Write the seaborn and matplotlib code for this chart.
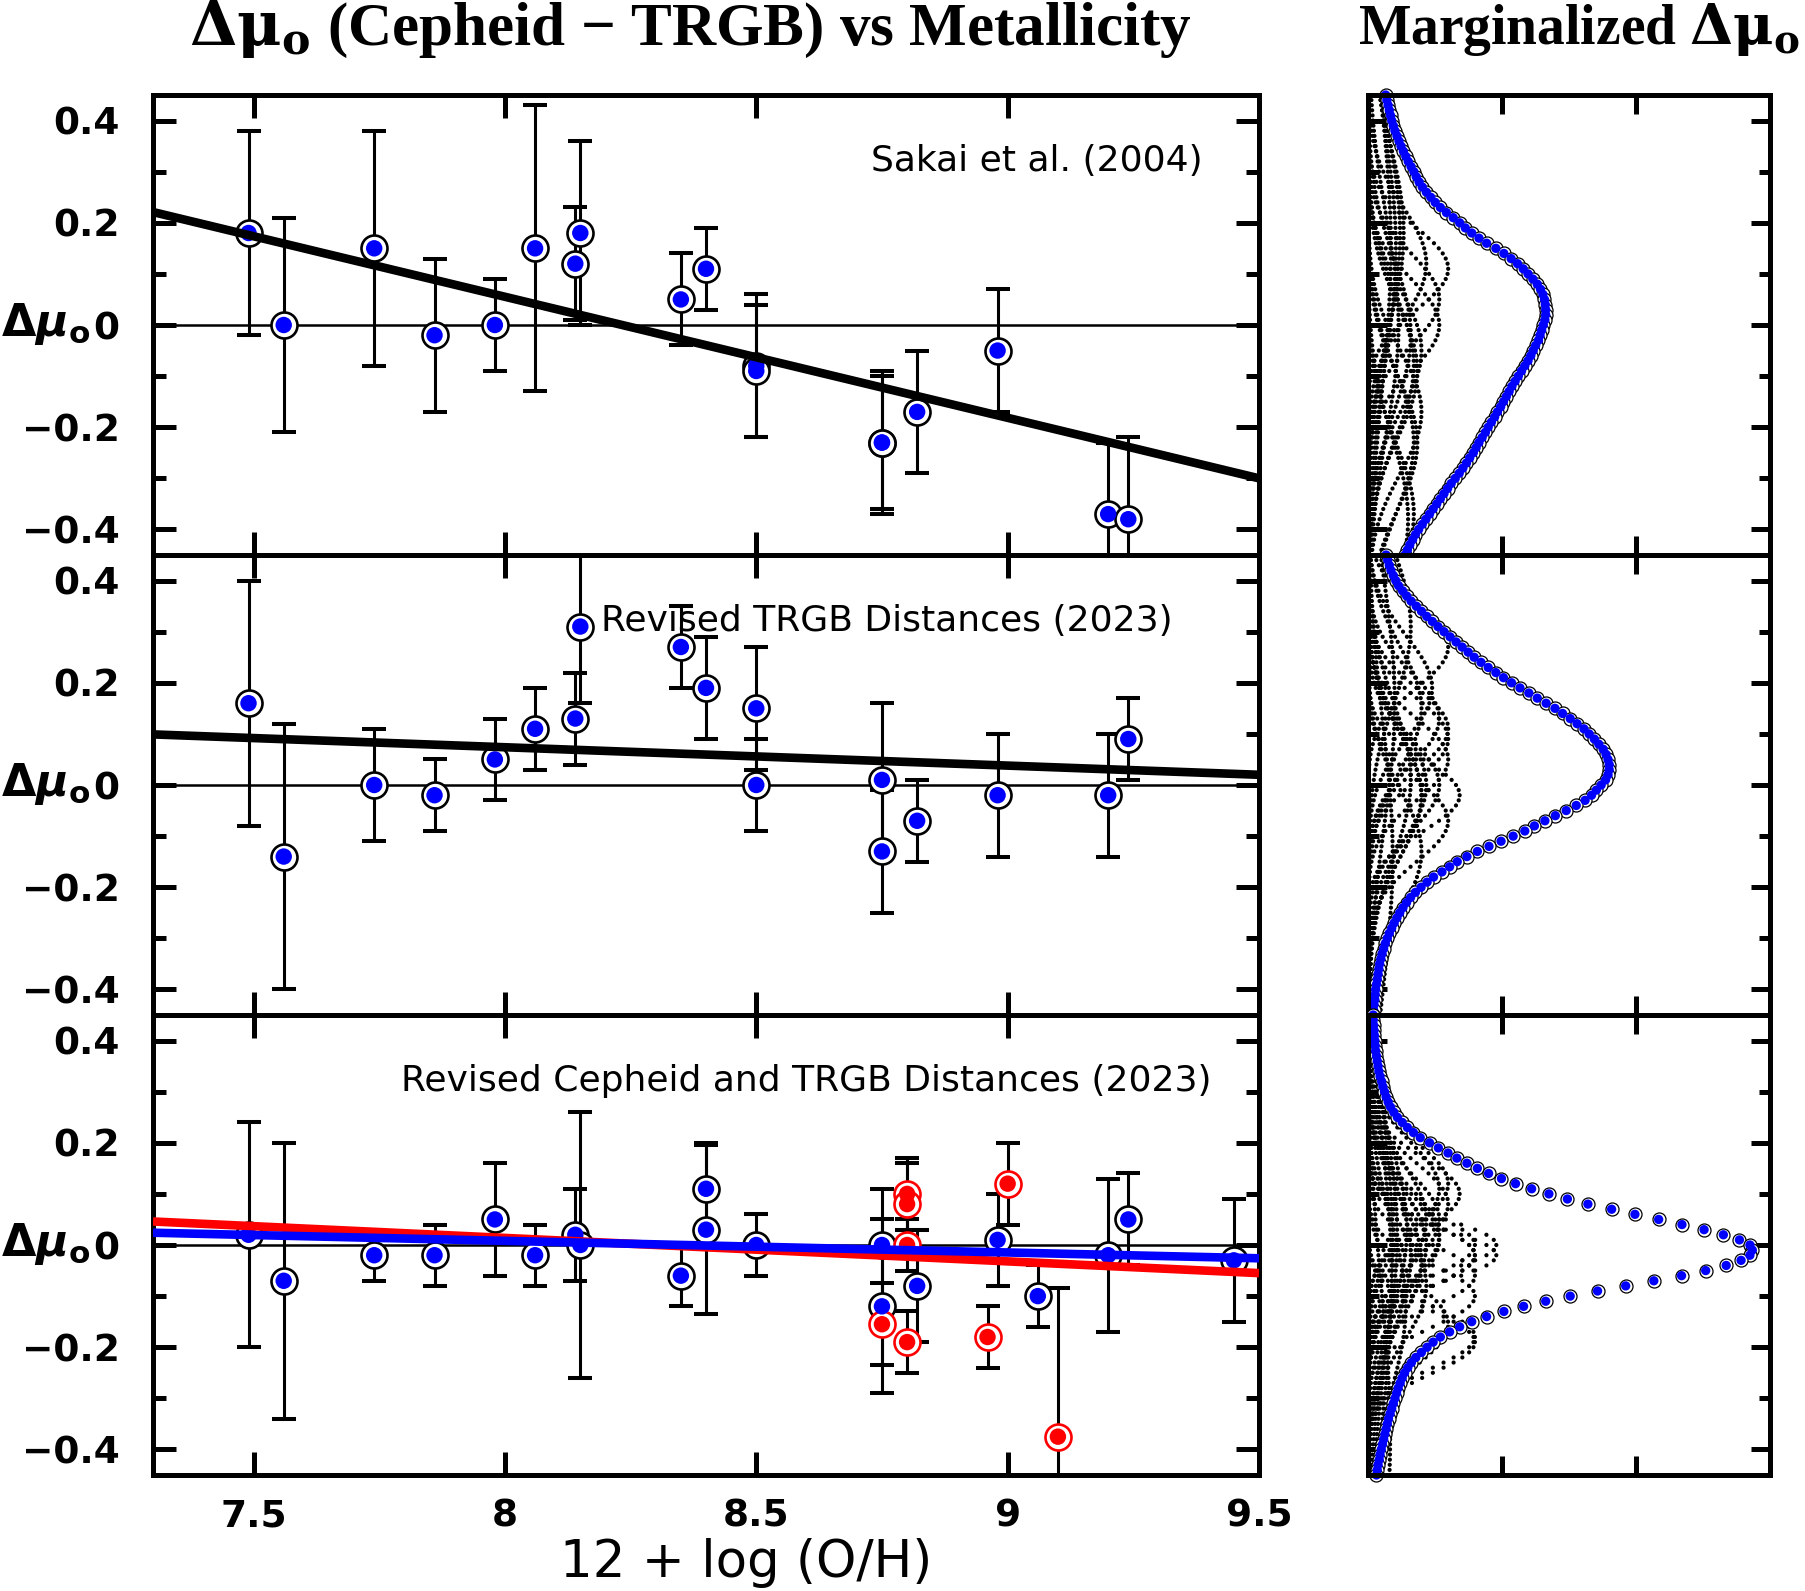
import numpy as np
import pandas as pd
import matplotlib
matplotlib.use("Agg")
import matplotlib.pyplot as plt
import seaborn as sns
from matplotlib.ticker import FixedLocator, NullFormatter

# ---------------- data ----------------
# Panel 1: Sakai et al. (2004)
p1_x = [7.49, 7.56, 7.74, 7.86, 7.98, 8.06, 8.14, 8.15, 8.35, 8.40, 8.50, 8.50, 8.75, 8.75, 8.82, 8.98, 9.20, 9.24]
p1_y = [0.18, 0.00, 0.15, -0.02, 0.00, 0.15, 0.12, 0.18, 0.05, 0.11, -0.08, -0.09, -0.23, -0.23, -0.17, -0.05, -0.37, -0.38]
p1_e = [0.20, 0.21, 0.23, 0.15, 0.09, 0.28, 0.11, 0.18, 0.09, 0.08, 0.14, 0.13, 0.13, 0.14, 0.12, 0.12, 0.14, 0.16]
p1_fit = [0.221, -0.300]

# Panel 2: Revised TRGB distances (2023)
p2_x = [7.49, 7.56, 7.74, 7.86, 7.98, 8.06, 8.14, 8.15, 8.35, 8.40, 8.50, 8.50, 8.75, 8.75, 8.82, 8.98, 9.20, 9.24]
p2_y = [0.16, -0.14, 0.00, -0.02, 0.05, 0.11, 0.13, 0.31, 0.27, 0.19, 0.15, 0.00, 0.01, -0.13, -0.07, -0.02, -0.02, 0.09]
p2_e = [0.24, 0.26, 0.11, 0.07, 0.08, 0.08, 0.09, 0.15, 0.08, 0.10, 0.12, 0.09, 0.15, 0.12, 0.08, 0.12, 0.12, 0.08]
p2_fit = [0.099, 0.020]

# Panel 3: Revised Cepheid and TRGB distances (2023)
p3b_x = [7.49, 7.56, 7.74, 7.86, 7.98, 8.06, 8.14, 8.15, 8.35, 8.40, 8.40, 8.50, 8.75, 8.75, 8.82, 8.98, 9.06, 9.20, 9.24, 9.45]
p3b_y = [0.02, -0.07, -0.02, -0.02, 0.05, -0.02, 0.02, 0.00, -0.06, 0.11, 0.03, 0.00, 0.00, -0.12, -0.08, 0.01, -0.10, -0.02, 0.05, -0.03]
p3b_e = [0.22, 0.27, 0.05, 0.06, 0.11, 0.06, 0.09, 0.26, 0.06, 0.09, 0.165, 0.06, 0.11, 0.17, 0.11, 0.09, 0.06, 0.15, 0.09, 0.12]
p3r_x = [8.75, 8.80, 8.80, 8.80, 8.80, 8.96, 9.00, 9.10]
p3r_y = [-0.155, 0.10, 0.08, 0.00, -0.19, -0.18, 0.12, -0.375]
p3r_e = [0.08, 0.07, 0.08, 0.05, 0.06, 0.06, 0.08, 0.29]
p3_fit_red = [0.046, -0.055]
p3_fit_blue = [0.024, -0.026]

fit_x = [7.3, 9.5]

panel_labels = ["Sakai et al. (2004)",
                "Revised TRGB Distances (2023)",
                "Revised Cepheid and TRGB Distances (2023)"]

# Marginalized distributions, y from 0.45 down to -0.45
marg_y = np.round(np.linspace(0.45, -0.45, 91), 2)
marg1 = [0.044, 0.047, 0.050, 0.053, 0.056, 0.059, 0.063, 0.067, 0.072, 0.077,
         0.082, 0.088, 0.094, 0.100, 0.107, 0.114, 0.120, 0.127, 0.135, 0.145,
         0.156, 0.167, 0.180, 0.195, 0.212, 0.228, 0.242, 0.258, 0.276, 0.295,
         0.318, 0.338, 0.356, 0.372, 0.386, 0.398, 0.410, 0.421, 0.429, 0.435,
         0.439, 0.441, 0.442, 0.442, 0.440, 0.436, 0.432, 0.428, 0.424, 0.417,
         0.411, 0.405, 0.398, 0.390, 0.382, 0.374, 0.366, 0.358, 0.351, 0.344,
         0.337, 0.330, 0.322, 0.315, 0.307, 0.299, 0.292, 0.284, 0.276, 0.269,
         0.262, 0.253, 0.245, 0.236, 0.227, 0.217, 0.207, 0.198, 0.189, 0.180,
         0.171, 0.162, 0.153, 0.144, 0.135, 0.126, 0.118, 0.111, 0.104, 0.098,
         0.092]
marg2 = [0.045, 0.049, 0.053, 0.057, 0.063, 0.069, 0.076, 0.086, 0.096, 0.107,
         0.120, 0.133, 0.146, 0.160, 0.174, 0.189, 0.204, 0.219, 0.234, 0.249,
         0.264, 0.281, 0.299, 0.318, 0.337, 0.357, 0.378, 0.400, 0.421, 0.443,
         0.465, 0.484, 0.503, 0.520, 0.537, 0.550, 0.563, 0.574, 0.585, 0.592,
         0.597, 0.600, 0.600, 0.597, 0.591, 0.580, 0.568, 0.556, 0.540, 0.518,
         0.493, 0.466, 0.440, 0.414, 0.390, 0.361, 0.331, 0.301, 0.272, 0.246,
         0.222, 0.203, 0.184, 0.163, 0.147, 0.132, 0.118, 0.106, 0.096, 0.087,
         0.079, 0.072, 0.065, 0.059, 0.053, 0.048, 0.043, 0.039, 0.035, 0.032,
         0.029, 0.027, 0.025, 0.023, 0.021, 0.019, 0.018, 0.017, 0.015, 0.014,
         0.013]
marg3 = [0.013, 0.013, 0.014, 0.015, 0.016, 0.017, 0.018, 0.019, 0.021, 0.023,
         0.025, 0.027, 0.030, 0.034, 0.037, 0.041, 0.045, 0.050, 0.056, 0.064,
         0.073, 0.085, 0.098, 0.113, 0.130, 0.153, 0.175, 0.199, 0.221, 0.246,
         0.272, 0.300, 0.332, 0.367, 0.407, 0.450, 0.496, 0.547, 0.606, 0.664,
         0.723, 0.781, 0.836, 0.884, 0.924, 0.950,
         0.956, 0.950, 0.928, 0.891, 0.840, 0.780, 0.711, 0.641, 0.571, 0.503,
         0.442, 0.387, 0.338, 0.295, 0.258, 0.228, 0.203, 0.180, 0.162, 0.147,
         0.133, 0.119, 0.108, 0.099, 0.091, 0.085, 0.080, 0.075, 0.071, 0.067,
         0.063, 0.059, 0.055, 0.051, 0.048, 0.045, 0.042, 0.039, 0.036, 0.033,
         0.030, 0.028, 0.025, 0.023, 0.021]

xtick_vals = [7.5, 8, 8.5, 9, 9.5]
xtick_labels = ["7.5", "8", "8.5", "9", "9.5"]
ytick_vals = [-0.4, -0.2, 0.0, 0.2, 0.4]
ytick_labels = ["\u22120.4", "\u22120.2", "0", "0.2", "0.4"]
yminor_vals = [-0.3, -0.1, 0.1, 0.3]

# ---------------- style ----------------
sns.set_style("ticks")
plt.rcParams["font.family"] = ["DejaVu Sans"]
plt.rcParams["mathtext.fontset"] = "custom"
plt.rcParams["mathtext.rm"] = "DejaVu Sans:bold"
plt.rcParams["mathtext.it"] = "DejaVu Sans:italic:bold"
plt.rcParams["mathtext.bf"] = "DejaVu Sans:bold"
for k in ["text.color", "axes.labelcolor", "xtick.color", "ytick.color", "axes.edgecolor"]:
    plt.rcParams[k] = "black"

W, H = 1806, 1591
fig = plt.figure(figsize=(W / 100, H / 100), dpi=100)


def rect(l, t, r, b):
    return [l / W, 1 - b / H, (r - l) / W, (b - t) / H]


tops = [95, 555, 1015]
main_axes = [fig.add_axes(rect(153, t, 1259, t + 460)) for t in tops]
marg_axes = [fig.add_axes(rect(1368, t, 1770, t + 460)) for t in tops]

BLUE = "#0000ff"
RED = "#ff0000"


def draw_points(ax, x, y, e, fill, ring):
    ax.errorbar(x, y, yerr=e, fmt="none", ecolor="black", elinewidth=2.2,
                capsize=8.3, capthick=2.9, zorder=2)
    df = pd.DataFrame({"x": x, "y": y})
    sns.scatterplot(data=df, x="x", y="y", ax=ax, marker="o", s=350,
                    color="white", edgecolor=ring, linewidth=1.9, zorder=3, legend=False)
    sns.scatterplot(data=df, x="x", y="y", ax=ax, marker="o", s=140,
                    color=fill, edgecolor="none", linewidth=0, zorder=4, legend=False)


def draw_fit(ax, yvals, color, z):
    sns.lineplot(x=fit_x, y=yvals, ax=ax, color=color, linewidth=6.2, zorder=z,
                 solid_capstyle="butt")


panels = [
    [(p1_x, p1_y, p1_e, BLUE, "black")],
    [(p2_x, p2_y, p2_e, BLUE, "black")],
    [(p3b_x, p3b_y, p3b_e, BLUE, "black"), (p3r_x, p3r_y, p3r_e, RED, RED)],
]

for i, ax in enumerate(main_axes):
    ax.axhline(0, color="black", linewidth=1.8, zorder=1)
    for (x, y, e, fill, ring) in panels[i]:
        draw_points(ax, x, y, e, fill, ring)
    if i == 0:
        draw_fit(ax, p1_fit, "black", 6)
    elif i == 1:
        draw_fit(ax, p2_fit, "black", 6)
    else:
        draw_fit(ax, p3_fit_red, RED, 6)
        draw_fit(ax, p3_fit_blue, BLUE, 7)

    ax.set_xlim(7.3, 9.5)
    ax.set_ylim(-0.45, 0.45)
    ax.set_xlabel("")
    ax.set_ylabel("")
    ax.xaxis.set_major_locator(FixedLocator(xtick_vals))
    ax.yaxis.set_major_locator(FixedLocator(ytick_vals))
    ax.yaxis.set_minor_locator(FixedLocator(yminor_vals))
    ax.set_yticklabels(ytick_labels, fontsize=27, fontweight="bold")
    if i == 2:
        ax.set_xticklabels(xtick_labels, fontsize=27, fontweight="bold")
    else:
        ax.xaxis.set_major_formatter(NullFormatter())
    ax.tick_params(which="both", direction="in", top=True, right=True, width=3.6)
    ax.tick_params(which="major", length=16.5)
    ax.tick_params(which="minor", length=9.4)
    ax.tick_params(axis="y", pad=24)
    ax.tick_params(axis="x", pad=17)
    for sp in ax.spines.values():
        sp.set_linewidth(3.6)
    ax.text(-0.1375, -0.022, r"$\Delta\mu_\mathrm{o}$", transform=ax.get_yaxis_transform(),
            ha="left", va="baseline", fontsize=32)

label_x = [9.387, 9.329, 9.406]
for ax, txt, lx in zip(main_axes, panel_labels, label_x):
    ax.text(lx, 0.32, txt, ha="right", va="center", fontsize=26, zorder=8)

# ---------------- marginal panels ----------------
margs = [marg1, marg2, marg3]
point_sets = [
    (p1_y, p1_e),
    (p2_y, p2_e),
    (p3b_y + p3r_y, p3b_e + p3r_e),
]
for i, mx in enumerate(marg_axes):
    vals, errs = point_sets[i]
    rows = []
    for v, s in zip(vals, errs):
        dens = 0.04 / (s * np.sqrt(2 * np.pi)) * np.exp(-0.5 * ((marg_y - v) / s) ** 2)
        rows.append(pd.DataFrame({"f": dens, "y": marg_y}))
    dots = pd.concat(rows, ignore_index=True)
    sns.scatterplot(data=dots, x="f", y="y", ax=mx, marker="o", s=9, color="black",
                    edgecolor="none", linewidth=0, zorder=2, legend=False)
    mdf = pd.DataFrame({"f": margs[i], "y": marg_y})
    sns.scatterplot(data=mdf, x="f", y="y", ax=mx, marker="o", s=88, color="white",
                    edgecolor="black", linewidth=0.9, zorder=3, legend=False, clip_on=False)
    sns.scatterplot(data=mdf, x="f", y="y", ax=mx, marker="o", s=45, color=BLUE,
                    edgecolor="none", linewidth=0, zorder=4, legend=False, clip_on=False)
    mx.set_xlim(0, 1)
    mx.set_ylim(-0.45, 0.45)
    mx.set_xlabel("")
    mx.set_ylabel("")
    mx.xaxis.set_major_locator(FixedLocator([1 / 3, 2 / 3]))
    mx.yaxis.set_major_locator(FixedLocator(ytick_vals))
    mx.yaxis.set_minor_locator(FixedLocator(yminor_vals))
    mx.xaxis.set_major_formatter(NullFormatter())
    mx.yaxis.set_major_formatter(NullFormatter())
    mx.tick_params(which="both", direction="in", top=True, right=True, left=True,
                   bottom=True, width=3.6)
    mx.tick_params(which="major", length=14)
    mx.tick_params(which="minor", length=8)
    for sp in mx.spines.values():
        sp.set_linewidth(3.6)
        sp.set_zorder(5)

# ---------------- titles ----------------
fig.text(690 / W, 1 - 29 / H, "$\\mathbf{\\Delta\\mu_o}$ (Cepheid \u2212 TRGB) vs Metallicity",
         ha="center", va="center", fontsize=44, fontweight="bold",
         family="Liberation Serif", math_fontfamily="dejavuserif")
fig.text(1800 / W, 1 - 29 / H, r"Marginalized $\mathbf{\Delta\mu_o}$",
         ha="right", va="center", fontsize=40, fontweight="bold",
         family="Liberation Serif", math_fontfamily="dejavuserif")
fig.text(746 / W, 1 - 1563 / H, "12 + log (O/H)", ha="center", va="center", fontsize=37)

fig.savefig("out.png", dpi=100)
